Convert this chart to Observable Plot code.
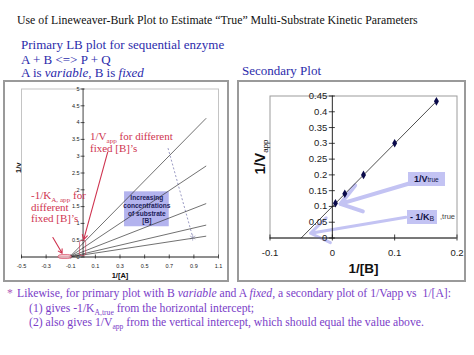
<!DOCTYPE html>
<html>
<head>
<meta charset="utf-8">
<script src="https://cdn.jsdelivr.net/npm/d3@7"></script>
<script src="https://cdn.jsdelivr.net/npm/@observablehq/plot@0.6"></script>
<style>
  html, body { margin: 0; padding: 0; background: #fff; }
  body { width: 474px; height: 355px; position: relative; overflow: hidden; font-family: "Liberation Serif", "Times New Roman", serif; }
  .abs { position: absolute; white-space: nowrap; }
  .box { position: absolute; box-sizing: border-box; border: 2px solid #9a9a9a; background: #fff; }
  .box svg { display: block; }
  .red { color: #cf3450; font-size: 11px; line-height: 11.5px; }
  .blue { color: #2b2bab; font-size: 13px; }
  .purple { color: #7a3dc8; font-size: 11.7px; }
  sub { font-size: 65%; vertical-align: -0.35em; line-height: 0; }
  .lav { position: absolute; background: #c3c3f3; font-family: "Liberation Sans", Arial, sans-serif; color: #111144; white-space: nowrap; }
</style>
</head>
<body>
<script>
// ---------- data ----------
// Primary Lineweaver-Burk plot: one line per fixed [B]
const primaryVappInv = [0.41, 0.27, 0.16, 0.094, 0.062]; // 1/v at 1/[A] = 0
const primaryAtOne   = [4.13, 2.71, 1.59, 0.95, 0.62];   // 1/v at 1/[A] = 1
const primaryXTicks  = [-0.5, -0.3, -0.1, 0.1, 0.3, 0.5, 0.7, 0.9, 1.1];
const primaryYTicks  = [0, 0.5, 1, 1.5, 2, 2.5, 3, 3.5, 4, 4.5, 5];

// Secondary plot: 1/Vapp vs 1/[B]
const secInvB    = [0.005, 0.02, 0.05, 0.1, 0.167];
const secInvVapp = [0.11, 0.14, 0.2, 0.3, 0.433];
const secFitX    = [-0.05, 0.167];
const secFitY    = [0, 0.433];
const secXTicks  = [-0.1, 0, 0.1, 0.2];
const secYTicks  = [0, 0.05, 0.1, 0.15, 0.2, 0.25, 0.3, 0.35, 0.4, 0.45];

// ---------- page text ----------
function el(html, cls, left, top, extra) {
  const d = document.createElement("div");
  d.className = "abs " + (cls || "");
  d.style.left = left + "px"; d.style.top = top + "px";
  if (extra) Object.assign(d.style, extra);
  d.innerHTML = html;
  document.body.appendChild(d);
  return d;
}
el("Use of Lineweaver-Burk Plot to Estimate \u201cTrue\u201d Multi-Substrate Kinetic Parameters", "", 17, 13, {fontSize: "11.8px", color: "#111"});
el("Primary LB plot for sequential enzyme", "blue", 21, 37);
el("A + B &lt;=&gt; P + Q", "blue", 21, 51.5);
el("A is <i>variable</i>, B is <i>fixed</i>", "blue", 21, 65);
el("Secondary Plot", "blue", 242, 63);

// ---------- primary plot ----------
const lines = primaryVappInv.map((v0, i) => ({v0, v1: primaryAtOne[i], slope: primaryAtOne[i] - v0}));
const fmtL = d => d === 0 ? "0" : String(d);
const red = "#cf3450";

const left = Plot.plot({
  width: 222, height: 198,
  marginLeft: 16, marginRight: 9, marginTop: 6.5, marginBottom: 23.5,
  x: {domain: [-0.5, 1.1], axis: null},
  y: {domain: [0, 5], axis: null},
  style: {fontFamily: "Liberation Sans, Arial, sans-serif", background: "transparent"},
  marks: [
    Plot.frame({stroke: "#c4c4c4"}),
    Plot.rect([0], {x1: 0.337, x2: 0.70, y1: 0.9, y2: 1.94, fill: "#b3b3ee"}),
    Plot.text(["Increasing\nconcentrations\nof substrate\n[B]"], {x: 0.518, y: 1.42, text: d => d, fontSize: 6.6, fontWeight: "bold", fill: "#1c1c5a", lineHeight: 1.18}),
    Plot.link([0], {x1: 0.69, y1: 3.24, x2: 0.89, y2: 0.6, stroke: "#9a9ac4", strokeWidth: 1, strokeDasharray: "2,2"}),
    Plot.dot([0], {x: 0.89, y: 0.58, symbol: "asterisk", r: 3, stroke: "#a8a8c8", strokeWidth: 0.8}),
    Plot.link(lines, {x1: d => -d.v0 / d.slope, y1: 0, x2: 1, y2: d => d.v1, stroke: "#333", strokeWidth: 0.7}),
    Plot.ruleY([0], {stroke: "#111", strokeWidth: 0.8}),
    Plot.ruleX([0], {stroke: "#111", strokeWidth: 0.8}),
    Plot.ruleY(primaryYTicks, {y: d => d, x1: 0, x2: 0, insetLeft: -2, insetRight: -2, stroke: "#111", strokeWidth: 0.7}),
    Plot.ruleX(primaryXTicks, {x: d => d, y1: 0, y2: 0, insetTop: -2, insetBottom: -2, stroke: "#111", strokeWidth: 0.7}),
    Plot.text(primaryYTicks, {x: 0, y: d => d, text: fmtL, dx: -3.5, textAnchor: "end", fontSize: 5.5, fill: "#222"}),
    Plot.text(primaryXTicks, {x: d => d, y: 0, text: fmtL, dy: 9, fontSize: 5.5, fill: "#222"}),
    Plot.text(["1/[A]"], {x: 0.3, y: 0, text: d => d, dy: 18.5, fontSize: 7.5, fontWeight: "bold", fill: "#111"}),
    Plot.text(["1/v"], {frameAnchor: "left", dx: -3, rotate: -90, text: d => d, fontSize: 7.5, fontWeight: "bold", fill: "#111"}),
    // red annotations
    Plot.rect([0], {x1: -0.2, x2: -0.09, y1: -0.06, y2: 0.06, rx: 4, fill: "#f2b8c0", fillOpacity: 0.8, stroke: red, strokeWidth: 0.6}),
    Plot.rect([0], {x1: -0.025, x2: 0.025, y1: 0.03, y2: 0.48, rx: 2, fill: "none", stroke: red, strokeWidth: 0.6}),
    Plot.arrow([0], {x1: 0.2, y1: 3.12, x2: 0.005, y2: 0.52, stroke: red, strokeWidth: 1.1, headLength: 7}),
    Plot.arrow([0], {x1: -0.245, y1: 0.58, x2: -0.17, y2: 0.11, stroke: red, strokeWidth: 1.1, headLength: 6})
  ]
});
const lbox = document.createElement("div");
lbox.className = "box";
Object.assign(lbox.style, {left: "3px", top: "80px", width: "226px", height: "202px"});
lbox.appendChild(left);
document.body.appendChild(lbox);

el("1/V<sub>app</sub> for different<br>fixed [B]\u2019s", "red", 90, 131);
el("-1/K<sub>A, app</sub> for<br>different<br>fixed [B]\u2019s", "red", 31, 190);

// ---------- secondary plot ----------
const fmtR = d => d === 0 ? "0" : String(d);
const lav = "#c3c3f3";
const right = Plot.plot({
  width: 225, height: 198,
  marginLeft: 30.5, marginRight: 7.5, marginTop: 13.5, marginBottom: 42.5,
  x: {domain: [-0.1, 0.2], axis: null},
  y: {domain: [0, 0.45], axis: null},
  style: {fontFamily: "Liberation Sans, Arial, sans-serif", background: "transparent"},
  marks: [
    Plot.frame({stroke: "#9c9c9c"}),
    Plot.arrow([0], {x1: 0.122, y1: 0.172, x2: 0.013, y2: 0.108, stroke: lav, strokeWidth: 4, headLength: 11, headAngle: 70}),
    Plot.arrow([0], {x1: 0.118, y1: 0.066, x2: -0.035, y2: 0.015, stroke: lav, strokeWidth: 3, headLength: 11, headAngle: 70}),
    Plot.line(secFitX.map((x, i) => ({x, y: secFitY[i]})), {x: "x", y: "y", stroke: "#222", strokeWidth: 0.8}),
    Plot.ruleY([0], {stroke: "#111", strokeWidth: 0.9}),
    Plot.ruleX([0], {stroke: "#111", strokeWidth: 0.9}),
    Plot.ruleY(secYTicks, {y: d => d, x1: 0, x2: 0, insetLeft: -3, insetRight: -3, stroke: "#111", strokeWidth: 0.8}),
    Plot.ruleX(secXTicks, {x: d => d, y1: 0, y2: 0, insetTop: -3, insetBottom: -3, stroke: "#111", strokeWidth: 0.8}),
    Plot.dot(secInvB.map((x, i) => ({x, y: secInvVapp[i]})), {x: "x", y: "y", symbol: "diamond", r: 2.6, fill: "#0a0a4a"}),
    Plot.text(secYTicks, {x: 0, y: d => d, text: fmtR, dx: -5, textAnchor: "end", fontSize: 9.5, fill: "#222"}),
    Plot.text(secXTicks, {x: d => d, y: 0, text: fmtR, dy: 15, fontSize: 9.5, fill: "#222"}),
    Plot.text(["1/[B]"], {x: 0.05, y: 0, text: d => d, dy: 30.5, fontSize: 13.5, fontWeight: "bold", fill: "#111"})
  ]
});
const rbox = document.createElement("div");
rbox.className = "box";
Object.assign(rbox.style, {left: "237px", top: "80px", width: "229px", height: "202px"});
rbox.appendChild(right);
document.body.appendChild(rbox);

// rotated y label of secondary plot
el("1/V<sub style='font-size:55%;font-weight:normal'>app</sub>", "", 240, 149, {fontFamily: "Liberation Sans, Arial, sans-serif", fontWeight: "bold", fontSize: "14.5px", color: "#111", transform: "rotate(-90deg)", transformOrigin: "center center", width: "40px", textAlign: "center"});

// lavender label boxes
el("<b>1/V</b><span style='font-size:6.5px'>true</span>", "lav", 408, 172, {fontSize: "9px", padding: "2px 6px 2px 6px", height: "10px", lineHeight: "10px"});
el("<b>- 1/K</b><span style='font-size:7px;vertical-align:-1px'>B</span>", "", 407, 210, {position: "absolute", background: lav, fontFamily: "Liberation Sans, Arial, sans-serif", color: "#111144", fontSize: "9px", padding: "2px 3px", height: "10px", lineHeight: "10px"});
el(",true", "", 440, 212, {fontFamily: "Liberation Sans, Arial, sans-serif", color: "#444", fontSize: "7.5px"});

// ---------- bottom notes ----------
el("*", "purple", 7, 287, {color: "#b05ab8"});
el("Likewise, for primary plot with B <i>variable</i> and A <i>fixed</i>, a secondary plot of 1/Vapp vs&nbsp; 1/[A]:", "purple", 17, 287);
el("(1) gives -1/K<sub>A,true</sub> from the horizontal intercept;", "purple", 29, 301.5);
el("(2) also gives 1/V<sub>app</sub> from the vertical intercept, which should equal the value above.", "purple", 29, 316);
</script>
</body>
</html>
